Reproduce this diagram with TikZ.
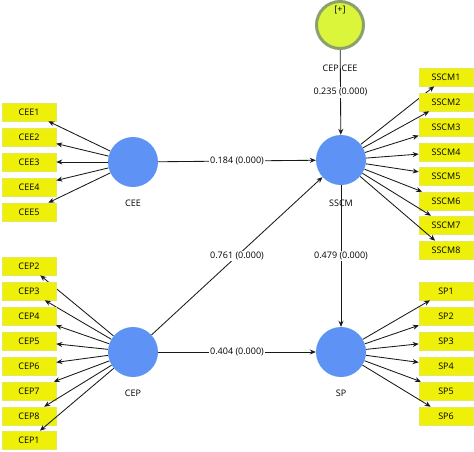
\documentclass[tikz,border=0pt]{standalone}
\usepackage{fontspec}
\setmainfont{Open Sans}
\usetikzlibrary{arrows.meta}
\definecolor{lvblue}{RGB}{94,146,245}
\definecolor{indyel}{RGB}{238,240,10}
\definecolor{indedge}{RGB}{228,232,90}
\definecolor{modfill}{RGB}{218,245,58}
\definecolor{modedge}{RGB}{140,160,110}
\begin{document}
\begin{tikzpicture}[x=1pt,y=-1pt,
  font=\fontsize{9}{10}\selectfont,
  lv/.style={circle, fill=lvblue, minimum size=50pt, inner sep=0pt},
  mod/.style={circle, fill=modfill, draw=modedge, line width=3pt, minimum size=47pt, inner sep=0pt},
  ind/.style={rectangle, fill=indyel, draw=indedge, line width=0.6pt, minimum width=54pt, minimum height=18pt, inner sep=0pt},
  arr/.style={draw=black!90, line width=0.85pt, -{Stealth[length=6pt,width=5pt]}},
  coef/.style={fill=white, inner sep=1.5pt},
  lbl/.style={inner sep=0pt}]
\useasboundingbox (0,0) rectangle (474,451);
% latent variables
\node[lv] (CEE) at (133,162) {};
\node[lv] (SSCM) at (341,160) {};
\node[lv] (CEP) at (133,352) {};
\node[lv] (SP) at (341,352) {};
\node[mod] (MOD) at (340,25) {};
\node[lbl] (MODplus) at (340,10) {[+]};
% labels
\node[lbl] (CEEl) at (133,203) {CEE};
\node[lbl] (SSCMl) at (341,203) {SSCM};
\node[lbl] (CEPl) at (133,393) {CEP};
\node[lbl] (SPl) at (341,393) {SP};
\node[lbl] (MODl) at (340,68) {CEP\hspace{3pt}CEE};
% indicators CEE
\foreach \i/\y in {1/112,2/137,3/162,4/187,5/212}{
  \node[ind] (cee\i) at (29,\y) {CEE\i};
  \draw[arr] (CEE) -- (cee\i);
}
% indicators CEP
\foreach \i/\y in {2/266,3/291,4/316,5/341,6/366,7/391,8/416,1/440}{
  \node[ind] (cep\i) at (29,\y) {CEP\i};
  \draw[arr] (CEP) -- (cep\i);
}
% indicators SSCM
\foreach \i/\y in {1/77,2/102,3/127,4/152,5/176,6/201,7/225,8/250}{
  \node[ind] (sscm\i) at (446,\y) {SSCM\i};
  \draw[arr] (SSCM) -- (sscm\i);
}
% indicators SP
\foreach \i/\y in {1/291,2/316,3/341,4/366,5/391,6/416}{
  \node[ind] (sp\i) at (446,\y) {SP\i};
  \draw[arr] (SP) -- (sp\i);
}
% structural paths
\draw[arr] (CEE) -- node[coef] {0.184 (0.000)} (SSCM);
\draw[arr] (CEP) -- node[coef] {0.761 (0.000)} (SSCM);
\draw[arr] (CEP) -- node[coef] {0.404 (0.000)} (SP);
\draw[arr] (SSCM) -- node[coef] {0.479 (0.000)} (SP);
\draw[arr] (MOD) -- node[coef, pos=0.5] {0.235 (0.000)} (SSCM);
\end{tikzpicture}
\end{document}
